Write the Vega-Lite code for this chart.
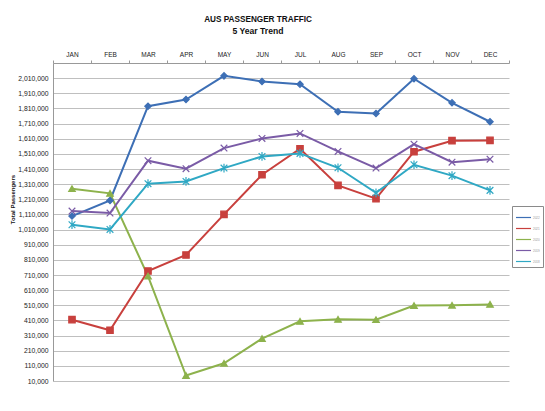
{
  "$schema": "https://vega.github.io/schema/vega-lite/v6.json",
  "description": "AUS passenger traffic, 5 year trend",
  "autosize": "none",
  "padding": {"left": 53, "top": 63, "right": 36, "bottom": 29},
  "width": 456,
  "height": 318,
  "background": "white",
  "title": {
    "text": "AUS PASSENGER TRAFFIC",
    "subtitle": "5 Year Trend",
    "font": "Liberation Sans",
    "fontSize": 8.2,
    "fontWeight": "bold",
    "color": "#111",
    "subtitleFont": "Liberation Sans",
    "subtitleFontSize": 8.6,
    "subtitleFontWeight": "bold",
    "subtitleColor": "#111",
    "subtitlePadding": 3,
    "anchor": "middle",
    "dx": -23,
    "offset": 14
  },
  "data": {
    "values": [
      {"month": "JAN", "year": "2022", "passengers": 1099000},
      {"month": "FEB", "year": "2022", "passengers": 1202000},
      {"month": "MAR", "year": "2022", "passengers": 1825000},
      {"month": "APR", "year": "2022", "passengers": 1869000},
      {"month": "MAY", "year": "2022", "passengers": 2025000},
      {"month": "JUN", "year": "2022", "passengers": 1988000},
      {"month": "JUL", "year": "2022", "passengers": 1970000},
      {"month": "AUG", "year": "2022", "passengers": 1788000},
      {"month": "SEP", "year": "2022", "passengers": 1777000},
      {"month": "OCT", "year": "2022", "passengers": 2006000},
      {"month": "NOV", "year": "2022", "passengers": 1847000},
      {"month": "DEC", "year": "2022", "passengers": 1722000},
      {"month": "JAN", "year": "2021", "passengers": 415000},
      {"month": "FEB", "year": "2021", "passengers": 345000},
      {"month": "MAR", "year": "2021", "passengers": 736000},
      {"month": "APR", "year": "2021", "passengers": 842000},
      {"month": "MAY", "year": "2021", "passengers": 1110000},
      {"month": "JUN", "year": "2021", "passengers": 1372000},
      {"month": "JUL", "year": "2021", "passengers": 1544000},
      {"month": "AUG", "year": "2021", "passengers": 1302000},
      {"month": "SEP", "year": "2021", "passengers": 1214000},
      {"month": "OCT", "year": "2021", "passengers": 1524000},
      {"month": "NOV", "year": "2021", "passengers": 1597000},
      {"month": "DEC", "year": "2021", "passengers": 1599000},
      {"month": "JAN", "year": "2020", "passengers": 1280000},
      {"month": "FEB", "year": "2020", "passengers": 1249000},
      {"month": "MAR", "year": "2020", "passengers": 703000},
      {"month": "APR", "year": "2020", "passengers": 46000},
      {"month": "MAY", "year": "2020", "passengers": 127000},
      {"month": "JUN", "year": "2020", "passengers": 290000},
      {"month": "JUL", "year": "2020", "passengers": 404000},
      {"month": "AUG", "year": "2020", "passengers": 417000},
      {"month": "SEP", "year": "2020", "passengers": 415000},
      {"month": "OCT", "year": "2020", "passengers": 508000},
      {"month": "NOV", "year": "2020", "passengers": 510000},
      {"month": "DEC", "year": "2020", "passengers": 516000},
      {"month": "JAN", "year": "2019", "passengers": 1132000},
      {"month": "FEB", "year": "2019", "passengers": 1119000},
      {"month": "MAR", "year": "2019", "passengers": 1465000},
      {"month": "APR", "year": "2019", "passengers": 1412000},
      {"month": "MAY", "year": "2019", "passengers": 1548000},
      {"month": "JUN", "year": "2019", "passengers": 1612000},
      {"month": "JUL", "year": "2019", "passengers": 1645000},
      {"month": "AUG", "year": "2019", "passengers": 1526000},
      {"month": "SEP", "year": "2019", "passengers": 1416000},
      {"month": "OCT", "year": "2019", "passengers": 1574000},
      {"month": "NOV", "year": "2019", "passengers": 1455000},
      {"month": "DEC", "year": "2019", "passengers": 1475000},
      {"month": "JAN", "year": "2018", "passengers": 1042000},
      {"month": "FEB", "year": "2018", "passengers": 1011000},
      {"month": "MAR", "year": "2018", "passengers": 1313000},
      {"month": "APR", "year": "2018", "passengers": 1328000},
      {"month": "MAY", "year": "2018", "passengers": 1416000},
      {"month": "JUN", "year": "2018", "passengers": 1493000},
      {"month": "JUL", "year": "2018", "passengers": 1513000},
      {"month": "AUG", "year": "2018", "passengers": 1418000},
      {"month": "SEP", "year": "2018", "passengers": 1253000},
      {"month": "OCT", "year": "2018", "passengers": 1438000},
      {"month": "NOV", "year": "2018", "passengers": 1366000},
      {"month": "DEC", "year": "2018", "passengers": 1269000}
    ]
  },
  "encoding": {
    "x": {
      "field": "month",
      "type": "ordinal",
      "sort": ["JAN", "FEB", "MAR", "APR", "MAY", "JUN", "JUL", "AUG", "SEP", "OCT", "NOV", "DEC"],
      "scale": {"type": "band", "paddingInner": 0, "paddingOuter": 0},
      "bandPosition": 0.5,
      "axis": {
        "orient": "top",
        "title": null,
        "labelAngle": 0,
        "labelFont": "Liberation Sans",
        "labelFontSize": 6.5,
        "labelColor": "#222",
        "labelPadding": 3,
        "tickBand": "extent",
        "tickSize": 3,
        "tickColor": "#999",
        "domainColor": "#999",
        "grid": false
      }
    },
    "y": {
      "field": "passengers",
      "type": "quantitative",
      "scale": {"domain": [10000, 2110000], "nice": false, "zero": false},
      "axis": {
        "title": "Total Passengers",
        "titleFont": "Liberation Sans",
        "titleFontSize": 6,
        "titleFontWeight": "bold",
        "titleColor": "#111",
        "titleAngle": 270,
        "titleAlign": "center",
        "titleBaseline": "middle",
        "titleX": -41,
        "titleY": 136,
        "values": [10000, 110000, 210000, 310000, 410000, 510000, 610000, 710000, 810000, 910000, 1010000, 1110000, 1210000, 1310000, 1410000, 1510000, 1610000, 1710000, 1810000, 1910000, 2010000],
        "format": ",d",
        "labelFont": "Liberation Sans",
        "labelFontSize": 6.8,
        "labelColor": "#222",
        "labelPadding": 5,
        "ticks": false,
        "domainColor": "#999",
        "gridColor": "#bfbfbf",
        "gridWidth": 1.2
      }
    }
  },
  "layer": [
    {
      "mark": {"type": "line", "strokeWidth": 2},
      "encoding": {
        "color": {
          "field": "year",
          "type": "nominal",
          "scale": {
            "domain": ["2022", "2021", "2020", "2019", "2018"],
            "range": ["#3d6fb5", "#c8403d", "#8db24c", "#7a5ba6", "#2fa8c4"]
          },
          "legend": {
            "title": null,
            "orient": "none",
            "legendX": 459,
            "legendY": 143,
            "symbolType": "stroke",
            "symbolSize": 225,
            "symbolStrokeWidth": 1.2,
            "labelFont": "Liberation Sans",
            "labelFontSize": 3,
            "labelColor": "#999",
            "labelOffset": 1,
            "rowPadding": -4,
            "padding": 3,
            "strokeColor": "#8a8a8a"
          }
        }
      }
    },
    {
      "mark": {"type": "point", "filled": true, "strokeWidth": 1.2, "opacity": 1},
      "encoding": {
        "shape": {
          "field": "year",
          "type": "nominal",
          "scale": {
            "domain": ["2022", "2021", "2020", "2019", "2018"],
            "range": ["diamond", "square", "triangle-up", "M-1,-1L1,1M-1,1L1,-1", "M-1,-1L1,1M-1,1L1,-1M0,-1.3L0,1.3"]
          },
          "legend": null
        },
        "size": {
          "field": "year",
          "type": "nominal",
          "scale": {
            "domain": ["2022", "2021", "2020", "2019", "2018"],
            "range": [40, 45, 36, 30, 30]
          },
          "legend": null
        },
        "fill": {
          "field": "year",
          "type": "nominal",
          "scale": {
            "domain": ["2022", "2021", "2020", "2019", "2018"],
            "range": ["#3d6fb5", "#c8403d", "#8db24c", "#7a5ba6", "#2fa8c4"]
          },
          "legend": null
        },
        "stroke": {
          "field": "year",
          "type": "nominal",
          "scale": {
            "domain": ["2022", "2021", "2020", "2019", "2018"],
            "range": ["#3d6fb5", "#c8403d", "#8db24c", "#7a5ba6", "#2fa8c4"]
          },
          "legend": null
        }
      }
    }
  ],
  "resolve": {
    "legend": {"color": "independent", "shape": "independent", "fill": "independent", "stroke": "independent", "size": "independent"}
  },
  "config": {
    "view": {"stroke": null}
  }
}
